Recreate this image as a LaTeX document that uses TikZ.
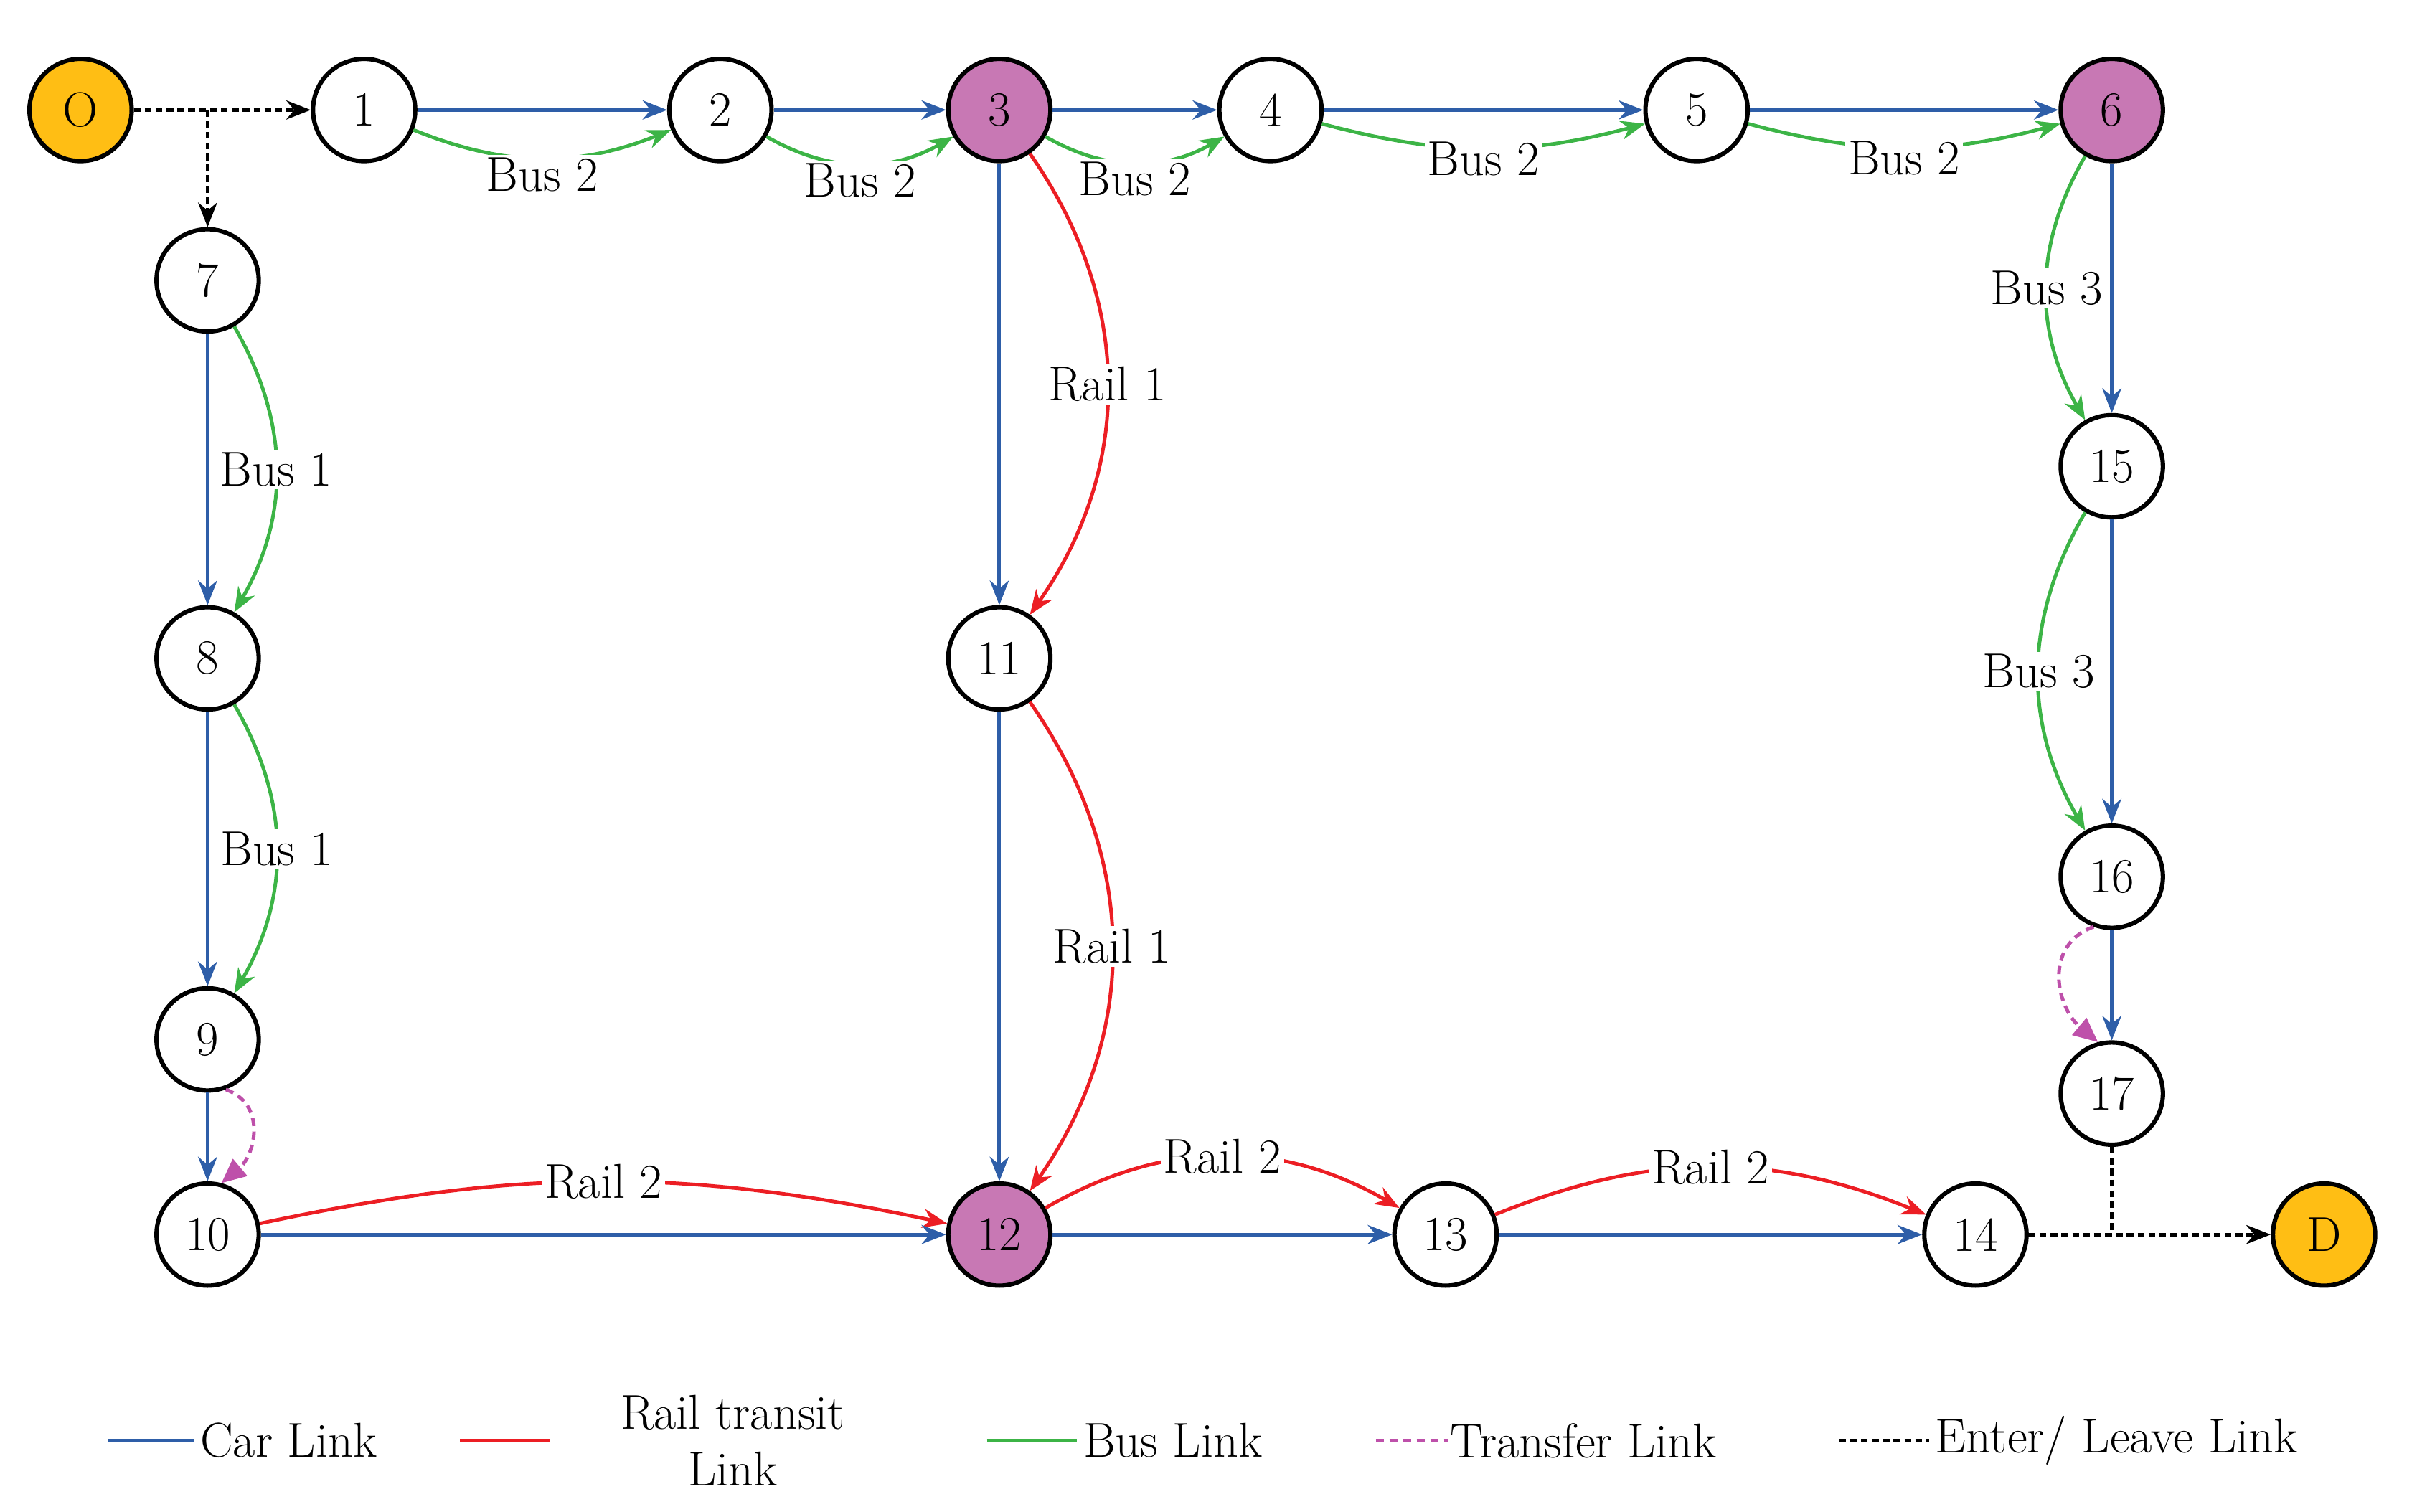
\documentclass[tikz,border=0pt]{standalone}
\usetikzlibrary{arrows.meta}
\definecolor{carc}{RGB}{46,94,168}
\definecolor{busc}{RGB}{60,180,70}
\definecolor{railc}{RGB}{236,30,36}
\definecolor{trc}{RGB}{190,80,170}
\definecolor{hubc}{RGB}{200,120,180}
\definecolor{odc}{RGB}{255,190,20}
\begin{document}
\begin{tikzpicture}[x=0.02cm,y=-0.02cm,font=\fontsize{18}{21}\selectfont,
  st/.style={circle,draw,line width=1.6pt,minimum size=1.32cm,inner sep=0pt,fill=white},
  car/.style={carc,line width=1.3pt,-{Stealth[length=9pt,width=7pt]}},
  bus/.style={busc,line width=1.3pt,-{Stealth[length=9pt,width=7pt]}},
  rail/.style={railc,line width=1.3pt,-{Stealth[length=9pt,width=7pt]}},
  tr/.style={trc,line width=1.3pt,dash pattern=on 3pt off 2pt,-{Triangle[length=9pt,width=8pt]}},
  el/.style={black,line width=1.3pt,dash pattern=on 2.5pt off 1.5pt,-{Stealth[length=9pt,width=7pt]}},
  lb/.style={fill=white,inner sep=1pt,text=black}]
\useasboundingbox (0,0) rectangle (1560,976);
\node[st,fill=odc] (O) at (52,71) {O};
\node[st] (n1) at (235,71) {1};
\node[st] (n2) at (465,71) {2};
\node[st,fill=hubc] (n3) at (645,71) {3};
\node[st] (n4) at (820,71) {4};
\node[st] (n5) at (1095,71) {5};
\node[st,fill=hubc] (n6) at (1363,71) {6};
\node[st] (n7) at (134,181) {7};
\node[st] (n8) at (134,425) {8};
\node[st] (n9) at (134,671) {9};
\node[st] (n10) at (134,797) {10};
\node[st] (n11) at (645,425) {11};
\node[st,fill=hubc] (n12) at (645,797) {12};
\node[st] (n13) at (933,797) {13};
\node[st] (n14) at (1275,797) {14};
\node[st,fill=odc] (D) at (1500,797) {D};
\node[st] (n15) at (1363,301) {15};
\node[st] (n16) at (1363,566) {16};
\node[st] (n17) at (1363,706) {17};
\coordinate (o7) at (134,71);
\coordinate (j17) at (1363,797);
% bus links
\draw[bus] (n1) to[bend right=22] node[lb,yshift=-6pt]{Bus 2} (n2);
\draw[bus] (n2) to[bend right=30] node[lb,yshift=-6pt]{Bus 2} (n3);
\draw[bus] (n3) to[bend right=30] node[lb,yshift=-6pt]{Bus 2} (n4);
\draw[bus] (n4) to[bend right=15] node[lb,yshift=-4pt]{Bus 2} (n5);
\draw[bus] (n5) to[bend right=15] node[lb,yshift=-4pt]{Bus 2} (n6);
\draw[bus] (n7) to[bend left=30] node[lb]{Bus 1} (n8);
\draw[bus] (n8) to[bend left=30] node[lb]{Bus 1} (n9);
\draw[bus] (n6) to[bend right=30] node[lb]{Bus 3} (n15);
\draw[bus] (n15) to[bend right=30] node[lb]{Bus 3} (n16);
% rail links
\draw[rail] (n3) to[bend left=35] node[lb]{Rail 1} (n11);
\draw[rail] (n11) to[bend left=35] node[lb]{Rail 1} (n12);
\draw[rail] (n10) to[bend left=12] node[lb]{Rail 2} (n12);
\draw[rail] (n12) to[bend left=30] node[lb]{Rail 2} (n13);
\draw[rail] (n13) to[bend left=22] node[lb]{Rail 2} (n14);
% transfer links
\draw[tr] (n9.-70) to[out=-20,in=40,looseness=1.2] (n10.75);
\draw[tr] (n16.-110) to[out=200,in=140,looseness=1.2] (n17.105);
% car links
\foreach \a/\b in {n1/n2,n2/n3,n3/n4,n4/n5,n5/n6,n7/n8,n8/n9,n9/n10,n3/n11,n11/n12,n10/n12,n12/n13,n13/n14,n6/n15,n15/n16,n16/n17}
  \draw[car] (\a) -- (\b);
% enter / leave links
\draw[el] (O) -- (n1);
\draw[el] (o7) -- (n7);
\draw[el] (n14) -- (D);
\draw[black,line width=1.3pt,dash pattern=on 2.5pt off 1.5pt] (n17) -- (j17);
% legend
\draw[carc,line width=1.3pt] (70,930) -- (125,930);
\node[anchor=west] (lcar) at (123,930) {Car Link};
\draw[railc,line width=1.3pt] (297,930) -- (355,930);
\node[align=center] (lrail) at (473,930) {Rail transit\\Link};
\draw[busc,line width=1.3pt] (637,930) -- (695,930);
\node[anchor=west] (lbus) at (693,930) {Bus Link};
\draw[trc,line width=1.3pt,dash pattern=on 3pt off 2pt] (888,930) -- (935,930);
\node[anchor=west] (ltr) at (930,930) {Transfer Link};
\draw[black,line width=1.3pt,dash pattern=on 2.5pt off 1.5pt] (1187,930) -- (1245,930);
\node[anchor=west] (lel) at (1243,930) {Enter/ Leave Link};
\end{tikzpicture}
\end{document}
